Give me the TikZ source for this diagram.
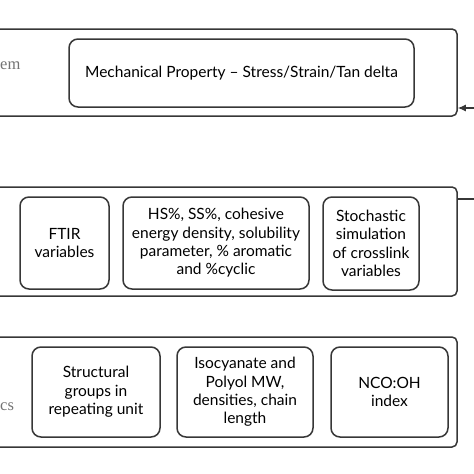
\documentclass[tikz,border=0pt]{standalone}
\usepackage{fontspec}
\setmainfont{Lato}
\newfontfamily\serifgray{Liberation Serif}
\usetikzlibrary{shapes,arrows.meta,calc}
\definecolor{mygray}{RGB}{55, 55, 55}
\definecolor{labelgray}{RGB}{115, 115, 115}

\begin{document}
\begin{tikzpicture}[x=1pt,y=-1pt]

\tikzstyle{outer} = [draw=mygray, line width=1.5, rounded corners=5,
    inner sep=0, minimum width=497, anchor=center]
\tikzstyle{inbox} = [draw=mygray, line width=1.5, rounded corners=9,
    inner sep=0, align=center, font=\fontsize{15.5}{18.4}\selectfont,
    text=black]
\tikzstyle{side} = [text=labelgray, inner sep=0, anchor=west,
    font=\serifgray\fontsize{16.5}{18}\selectfont]

\useasboundingbox (0,0) rectangle (474,474);

% =========================
% top level - system
% =========================
\node[outer, minimum height=87] (sysbox) at (208.5,72.5) {};
\node[side] (syslabel) at (0,66) {em};
\node[inbox, minimum width=345, minimum height=68] (mech) at (241.5,73)
    {Mechanical Property -- Stress/Strain/Tan delta};

% =========================
% middle level - variables
% =========================
\node[outer, minimum height=109] (varbox) at (208.5,241.5) {};
\node[inbox, minimum width=89, minimum height=92] (ftir) at (64.5,243)
    {FTIR\\variables};
\node[inbox, minimum width=186, minimum height=92] (hsss) at (216,243)
    {HS\%, SS\%, cohesive\\energy density, solubility\\parameter, \% aromatic\\and \%cyclic};
\node[inbox, minimum width=96, minimum height=93] (stoch) at (371,243.5)
    {Stochastic\\simulation\\of crosslink\\variables};

% =========================
% bottom level - characteristics
% =========================
\node[outer, minimum height=110] (chembox) at (208.5,392) {};
\node[side] (chemlabel) at (0,407) {cs};
\node[inbox, minimum width=128, minimum height=90] (struct) at (96,392)
    {Structural\\groups in\\repeating unit};
\node[inbox, minimum width=136, minimum height=90] (iso) at (245,392)
    {Isocyanate and\\Polyol MW,\\densities, chain\\length};
\node[inbox, minimum width=117, minimum height=90] (nco) at (389.5,392)
    {NCO:OH\\index};

% =========================
% feedback connectors
% =========================
\coordinate (inend) at (474,108);
\coordinate (outend) at (474,199);
\draw[-{Latex[length=8,width=7]}, line width=1.2, draw=mygray]
    (inend) -- (inend -| sysbox.east);
\draw[line width=1.2, draw=mygray] (outend -| varbox.east) -- (outend);

\end{tikzpicture}
\end{document}
